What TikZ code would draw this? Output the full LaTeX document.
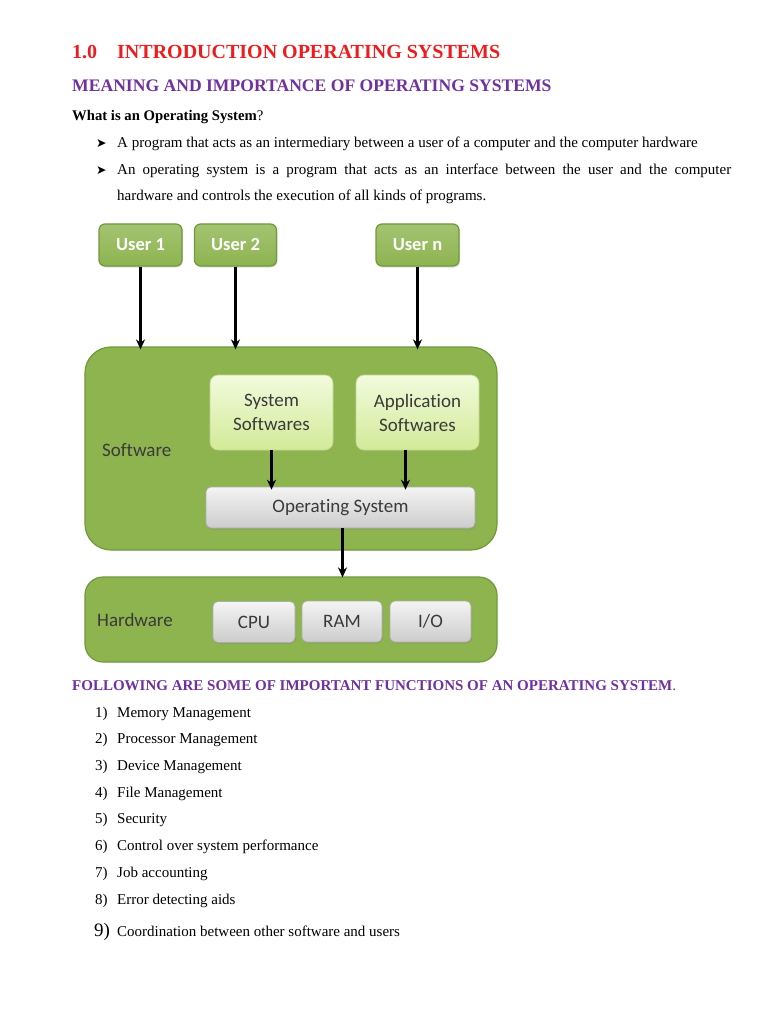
\documentclass[tikz,border=0pt]{standalone}
\usepackage{fontspec}
\setmainfont{Liberation Serif}
\newfontfamily\diag[Ligatures=NoCommon]{Carlito}
\newfontfamily\dej{DejaVu Sans}
\usetikzlibrary{arrows.meta,shadows}
\definecolor{titlered}{HTML}{EE1C1C}
\definecolor{purp}{HTML}{7030A0}
\definecolor{gfill}{HTML}{8DB44F}
\definecolor{gdraw}{HTML}{6E9A3A}
\definecolor{lgtop}{HTML}{F2FBDD}
\definecolor{lgbot}{HTML}{D2EA98}
\definecolor{gytop}{HTML}{F4F4F4}
\definecolor{gybot}{HTML}{CCCCCC}
\definecolor{txt}{HTML}{3A3A3A}
\tikzset{
  bodytext/.style={anchor=base west, inner sep=0pt, font=\fontsize{15}{17}\selectfont},
  listtext/.style={anchor=base west, inner sep=0pt, font=\fontsize{15}{17}\selectfont},
  bul/.style={anchor=base west, inner sep=0pt, font=\dej\fontsize{12.5}{14}\selectfont},
  bigbox/.style={draw=gdraw, line width=1.2pt, fill=gfill, rounded corners=26pt},
  userbox/.style={draw=gdraw, line width=1.2pt, top color=gfill!80!white, bottom color=gfill, rounded corners=6pt, minimum height=42pt, font=\diag\fontsize{18.5}{20}\selectfont\bfseries, text=white, drop shadow={opacity=0.25, shadow xshift=1pt, shadow yshift=-1.5pt}},
  lgbox/.style={draw=lgbot!80!gray, line width=0.6pt, top color=lgtop, bottom color=lgbot, rounded corners=8pt, minimum width=123pt, minimum height=75pt, align=center, font=\diag\fontsize{19}{24}\selectfont, text=txt},
  gybox/.style={draw=gybot!85!black, line width=0.6pt, top color=gytop, bottom color=gybot, rounded corners=5pt, minimum height=41pt, font=\diag\fontsize{19}{22}\selectfont, text=txt, drop shadow={opacity=0.3, shadow xshift=1pt, shadow yshift=-1.5pt}},
  lbl/.style={anchor=west, inner sep=0pt, font=\diag\fontsize{19}{22}\selectfont, text=txt},
  arr/.style={-{Stealth[length=10pt,width=9pt]}, line width=2.5pt, black},
}
\begin{document}
\begin{tikzpicture}[x=1pt,y=-1pt]
\useasboundingbox[fill=white] (0,0) rectangle (768,1024);

% headings
\node[anchor=base west, inner sep=0pt, text=titlered, font=\fontsize{20}{22}\selectfont\bfseries] (t1) at (72,59) {1.0};
\node[anchor=base west, inner sep=0pt, text=titlered, font=\fontsize{20}{22}\selectfont\bfseries] (t2) at (117,59) {INTRODUCTION OPERATING SYSTEMS};
\node[anchor=base west, inner sep=0pt, text=purp, font=\fontsize{17.6}{20}\selectfont\bfseries] (t3) at (72,92) {MEANING AND IMPORTANCE OF OPERATING SYSTEMS};
\node[anchor=base west, inner sep=0pt, font=\fontsize{14.7}{17}\selectfont] (q) at (72,121) {\textbf{What is an Operating System}?};

\node[bul] (b1) at (96,148) {➤};
\node[bodytext] (l1) at (117,148) {A program that acts as an intermediary between a user of a computer and the computer hardware};
\node[bul] (b2) at (96,175) {➤};
\node[bodytext] (l2) at (117,175) {\makebox[614pt][s]{An operating system is a program that acts as an interface between the user and the computer}};
\node[bodytext] (l3) at (117,201) {hardware and controls the execution of all kinds of programs.};

% diagram
\node[bigbox, minimum width=412pt, minimum height=203pt] (sw) at (291,448.5) {};
\node[bigbox, rounded corners=18pt, minimum width=412pt, minimum height=85pt] (hw) at (291,619.5) {};

\node[userbox, minimum width=83pt] (u1) at (140.5,245) {User 1};
\node[userbox, minimum width=82pt] (u2) at (235.5,245) {User 2};
\node[userbox, minimum width=83pt] (un) at (417.5,245) {User n};

\node[lbl] (swl) at (102,450) {Software};
\node[lgbox] (sys) at (271.5,412.5) {System\\Softwares};
\node[lgbox] (app) at (417.5,412.5) {Application\\Softwares};
\node[gybox, minimum width=269pt] (os) at (340.5,507.5) {Operating System};

\node[lbl] (hwl) at (97,620) {Hardware};
\node[gybox, minimum width=82pt] (cpu) at (254,622) {CPU};
\node[gybox, minimum width=80pt] (ram) at (342,621.5) {RAM};
\node[gybox, minimum width=81pt] (io) at (430.5,621.5) {I/O};

\draw[arr] (u1.south) -- ([yshift=-3pt]u1.south |- sw.north);
\draw[arr] (u2.south) -- ([yshift=-3pt]u2.south |- sw.north);
\draw[arr] (un.south) -- ([yshift=-3pt]un.south |- sw.north);
\draw[arr] (sys.south) -- ([yshift=-3pt]sys.south |- os.north);
\draw[arr] ([xshift=-12pt]app.south) -- ([xshift=-12pt,yshift=-3pt]app.south |- os.north);
\draw[arr] ([xshift=2pt]os.south) -- ([xshift=2pt,yshift=-1pt]os.south |- hw.north);

% functions
\node[anchor=base west, inner sep=0pt, text=purp, font=\fontsize{15}{17}\selectfont] (t4) at (72,690) {\textbf{FOLLOWING ARE SOME OF IMPORTANT FUNCTIONS OF AN OPERATING SYSTEM}.};
\node[listtext] (n1) at (95,717) {1)};
\node[listtext] (i1) at (117,717) {Memory Management};
\node[listtext] (n2) at (95,743.5) {2)};
\node[listtext] (i2) at (117,743.5) {Processor Management};
\node[listtext] (n3) at (95,770.5) {3)};
\node[listtext] (i3) at (117,770.5) {Device Management};
\node[listtext] (n4) at (95,797) {4)};
\node[listtext] (i4) at (117,797) {File Management};
\node[listtext] (n5) at (95,823.5) {5)};
\node[listtext] (i5) at (117,823.5) {Security};
\node[listtext] (n6) at (95,850.5) {6)};
\node[listtext] (i6) at (117,850.5) {Control over system performance};
\node[listtext] (n7) at (95,877) {7)};
\node[listtext] (i7) at (117,877) {Job accounting};
\node[listtext] (n8) at (95,904) {8)};
\node[listtext] (i8) at (117,904) {Error detecting aids};
\node[anchor=base west, inner sep=0pt, font=\fontsize{19}{21}\selectfont] (n9) at (94,936) {9)};
\node[listtext] (i9) at (117,936) {Coordination between other software and users};
\end{tikzpicture}
\end{document}
